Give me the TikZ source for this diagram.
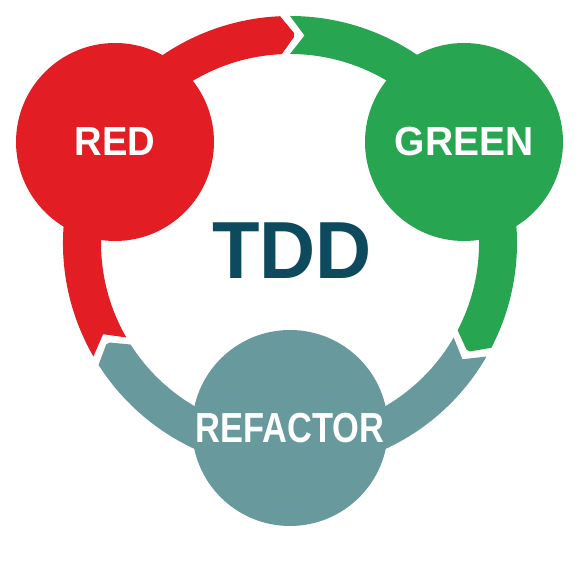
\documentclass[tikz,border=0pt]{standalone}
\usepackage{fontspec}
\setmainfont{Liberation Sans}
\usepackage{graphicx}
\usetikzlibrary{calc}
\definecolor{RedFill}{RGB}{226,30,36}
\definecolor{GreenFill}{RGB}{40,165,80}
\definecolor{TealFill}{RGB}{104,153,157}
\definecolor{TitleText}{RGB}{14,74,94}
\tikzset{
  nd_stage/.style={
    circle, minimum size=99pt, inner sep=0pt,
    text=white, font=\fontsize{20.3}{24}\selectfont\bfseries},
  nd_title/.style={
    inner sep=0pt, text=TitleText,
    font=\fontsize{40.5}{48}\selectfont\bfseries},
  seg/.style={draw=none},
}
\begin{document}
\begin{tikzpicture}[x=0.5pt,y=0.5pt]
\useasboundingbox (0,0) rectangle (579,577);
\begin{scope}[shift={(290,334)}]
\foreach \s/\e/\c in {210/92.5/RedFill, 90/-27.5/GreenFill, 330/212.5/TealFill}{
  \fill[seg,\c] (\s:227) arc[start angle=\s, end angle=\e, radius=227]
    -- ({\e-3.6}:210) -- ({\e-3.6}:206) -- (\e:189)
    arc[start angle=\e, end angle=\s, radius=189]
    -- ({\s-4}:208) -- cycle;
}
\end{scope}
\node[nd_stage, fill=RedFill] (red) at (115,435) {\scalebox{0.94}[1]{RED}};
\node[nd_stage, fill=GreenFill] (green) at (464,435) {\scalebox{0.96}[1]{GREEN}};
\node[nd_stage, fill=TealFill, minimum size=98pt,
  font=\fontsize{21}{25}\selectfont\bfseries] (refactor) at (290,149) {\scalebox{0.82}[1]{REFACTOR}};
\node[nd_title] (tdd) at (292,326) {\scalebox{0.96}[1]{TDD}};
\end{tikzpicture}
\end{document}
